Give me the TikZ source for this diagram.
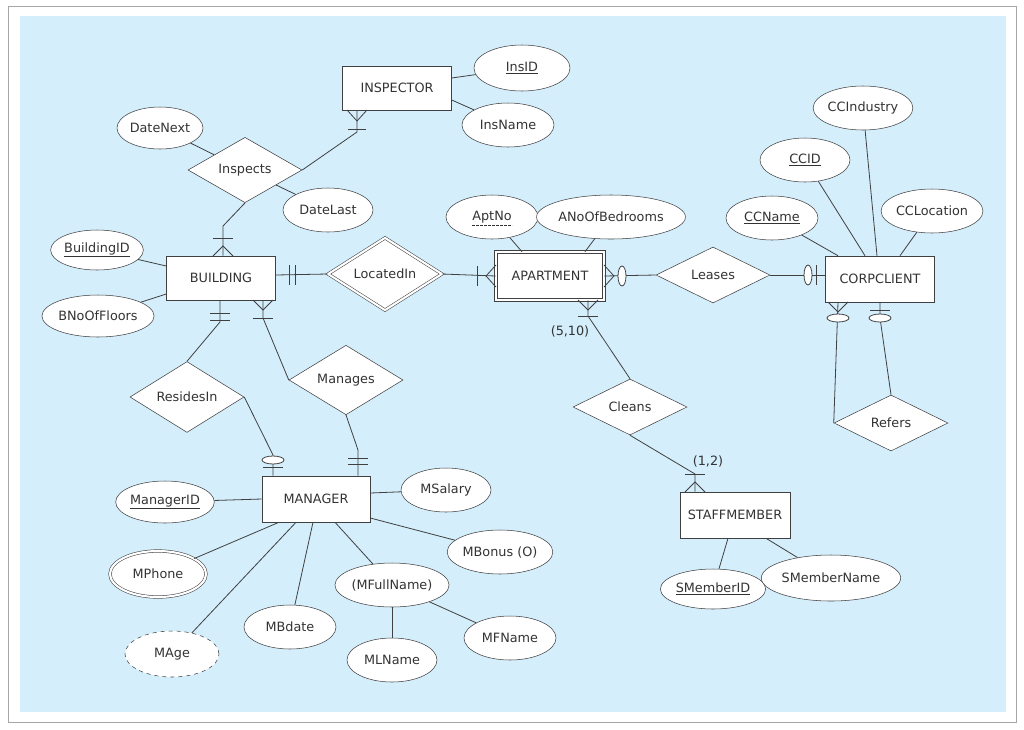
\documentclass[tikz,border=0pt]{standalone}
\usepackage{fontspec}
\setmainfont{DejaVu Sans}
\usetikzlibrary{shapes.geometric}
\definecolor{bg}{HTML}{D4EEFC}
\definecolor{ln}{HTML}{404040}
\definecolor{tx}{HTML}{333333}
\begin{document}
\begin{tikzpicture}[x=0.75pt,y=-0.75pt,
  every node/.style={font=\fontsize{9.6}{11}\selectfont, text=tx},
  ent/.style 2 args={draw=ln, fill=white, rectangle, inner sep=0, minimum width=#1*0.75pt, minimum height=#2*0.75pt},
  ell/.style 2 args={draw=ln, fill=white, ellipse, inner sep=0, minimum width=#1*0.75pt, minimum height=#2*0.75pt},
  rel/.style={draw=ln, fill=white, diamond, inner sep=0, minimum width=114*0.75pt, minimum height=56*0.75pt},
  cn/.style={draw=ln, line width=0.6pt},
  ov/.style={draw=ln, fill=white, line width=0.6pt}]
\useasboundingbox (0,0) rectangle (1024,729);
\fill[white] (0,0) rectangle (1024,729);
\draw[gray!70, fill=white] (8,6) rectangle (1016,722);
\fill[bg] (20,16) rectangle (1006,712);

% nodes
\node[ent={109}{44}] (insp) at (397,88) {INSPECTOR};
\node[ell={96}{46}] (insid) at (522,68) {\underline{InsID}};
\node[ell={92}{44}] (insname) at (508,125) {InsName};
\node[ell={86}{42}] (datenext) at (160,128) {DateNext};
\node[rel] (inspects) at (245,170) {Inspects};
\node[ell={90}{44}] (datelast) at (328,210) {DateLast};
\node[ent={109}{44}] (bld) at (221,278) {BUILDING};
\node[ell={86}{40}] (bid) at (97,250) {\underline{BuildingID}};
\node[ell={88}{42}] (bfl) at (98,316) {BNoOfFloors};
\node[rel, double, double distance=1.6pt] (loc) at (385,274) {LocatedIn};
\node[ent={108}{48}, double, double distance=1.6pt] (apt) at (550,276) {APARTMENT};
\node[ell={92}{44}] (aptno) at (492,217) {AptNo};
\draw[dashed, tx, line width=0.4pt, dash pattern=on 2pt off 1pt] ([xshift=-15pt,yshift=-6pt]aptno.center) -- ([xshift=15pt,yshift=-6pt]aptno.center);
\node[ell={112}{44}] (anb) at (611,217) {ANoOfBedrooms};
\node[rel] (leases) at (713,275) {Leases};
\node[ent={109}{46}] (cc) at (880,279) {CORPCLIENT};
\node[ell={90}{44}] (ccid) at (805,160) {\underline{CCID}};
\node[ell={96}{44}] (ccind) at (863,108) {CCIndustry};
\node[ell={92}{44}] (ccname) at (772,218) {\underline{CCName}};
\node[ell={94}{44}] (ccloc) at (932,211) {CCLocation};
\node[rel] (refers) at (891,423) {Refers};
\node[rel] (cleans) at (630,407) {Cleans};
\node[ent={110}{46}] (staff) at (735,515) {STAFFMEMBER};
\node[ell={88}{40}] (smid) at (713,589) {\underline{SMemberID}};
\node[ell={106}{46}] (smname) at (831,578) {SMemberName};
\node[rel] (resides) at (187,397) {ResidesIn};
\node[rel] (manages) at (346,380) {Manages};
\node[ent={108}{46}] (mgr) at (316,499) {MANAGER};
\node[ell={90}{42}] (mid) at (165,502) {\underline{ManagerID}};
\node[ell={90}{44}] (msal) at (446,490) {MSalary};
\node[ell={100}{44}] (mbon) at (500,552) {MBonus (O)};
\node[ell={96}{46}, double, double distance=1.6pt] (mph) at (158,574) {MPhone};
\node[ell={94}{46}, dashed] (mage) at (172,654) {MAge};
\node[ell={92}{44}] (mbd) at (290,627) {MBdate};
\node[ell={94}{44}] (mfull) at (392,585) {(MFullName)};
\node[ell={90}{44}] (mln) at (392,660) {MLName};
\node[ell={92}{44}] (mfn) at (510,638) {MFName};
\node (l510) at (570,331) {(5,10)};
\node (l12) at (708,461) {(1,2)};

% attribute lines
\draw[cn] (insp.east |- 0,78) -- (insid);
\draw[cn] (insp.east |- 0,100) -- (insname);
\draw[cn] (datenext) -- (inspects);
\draw[cn] (inspects) -- (datelast);
\draw[cn] (bid) -- (bld.west |- 0,266);
\draw[cn] (bfl) -- (bld.west |- 0,294);
\draw[cn] (aptno) -- (apt.north -| 522,0);
\draw[cn] (anb) -- (apt.north -| 585,0);
\draw[cn] (ccname) -- (cc.north -| 838,0);
\draw[cn] (ccid) -- (cc.north -| 865,0);
\draw[cn] (ccind) -- (cc.north -| 877,0);
\draw[cn] (ccloc) -- (cc.north -| 900,0);
\draw[cn] (staff.south -| 728,0) -- (smid);
\draw[cn] (staff.south -| 766,0) -- (smname);
\draw[cn] (mid) -- (mgr.west);
\draw[cn] (mgr.east |- 0,493) -- (msal);
\draw[cn] (mgr.east |- 0,518) -- (mbon);
\draw[cn] (mgr.south -| 279,0) -- (mph);
\draw[cn] (mgr.south -| 296,0) -- (mage);
\draw[cn] (mgr.south -| 313,0) -- (mbd);
\draw[cn] (mgr.south -| 335,0) -- (mfull);
\draw[cn] (mfull) -- (mln);
\draw[cn] (mfull) -- (mfn);

% relationship connectors
\draw[cn] (inspects.east) -- (357,132) -- (insp.south -| 357,0);
\draw[cn] (348,129) -- (366,129);
\draw[cn] (347,110) -- (357,121) -- (367,110);
\draw[cn] (inspects.south) -- (223,226) -- (bld.north -| 223,0);
\draw[cn] (213,238) -- (233,238);
\draw[cn] (213,256) -- (223,246) -- (233,256);

\draw[cn] (bld.east |- 0,275) -- (loc.west);
\draw[cn] (289,265) -- (289,285) (295,265) -- (295,285);
\draw[cn] (loc.east) -- (apt.west);
\draw[cn] (477,266) -- (477,286);
\draw[cn] (496,265) -- (486,276) -- (496,287);

\draw[cn] (apt.east) -- (leases.west);
\draw[cn] (604,265) -- (614,276) -- (604,287);
\draw[ov] (622,276) ellipse (4 and 10);
\draw[cn] (leases.east) -- (cc.west |- 0,275);
\draw[ov] (808,275) ellipse (4 and 10);
\draw[cn] (816,265) -- (816,285);

\draw[cn] (cc.south -| 838,0) -- (refers.west);
\draw[cn] (828,302) -- (838,312) -- (848,302);
\draw[ov] (838,318) ellipse (11 and 4);
\draw[cn] (cc.south -| 880,0) -- (880,318) -- (refers.north);
\draw[cn] (870,310) -- (890,310);
\draw[ov] (880,318) ellipse (11 and 4);

\draw[cn] (apt.south -| 588,0) -- (588,316) -- (cleans.north);
\draw[cn] (578,300) -- (588,310) -- (598,300);
\draw[cn] (578,316) -- (598,316);
\draw[cn] (cleans.south) -- (695,474) -- (staff.north -| 695,0);
\draw[cn] (685,474) -- (705,474);
\draw[cn] (685,492) -- (695,482) -- (705,492);

\draw[cn] (bld.south -| 220,0) -- (220,322) -- (resides.north);
\draw[cn] (210,313) -- (230,313) (210,320) -- (230,320);
\draw[cn] (bld.south -| 263,0) -- (263,318) -- (manages.west);
\draw[cn] (253,300) -- (263,310) -- (273,300);
\draw[cn] (253,318) -- (273,318);
\draw[cn] (resides.east) -- (273,455) -- (mgr.north -| 273,0);
\draw[cn] (263,467) -- (283,467);
\draw[ov] (273,460) ellipse (11 and 4);
\draw[cn] (manages.south) -- (358,450) -- (mgr.north -| 358,0);
\draw[cn] (348,458) -- (368,458) (348,464) -- (368,464);
\end{tikzpicture}
\end{document}
